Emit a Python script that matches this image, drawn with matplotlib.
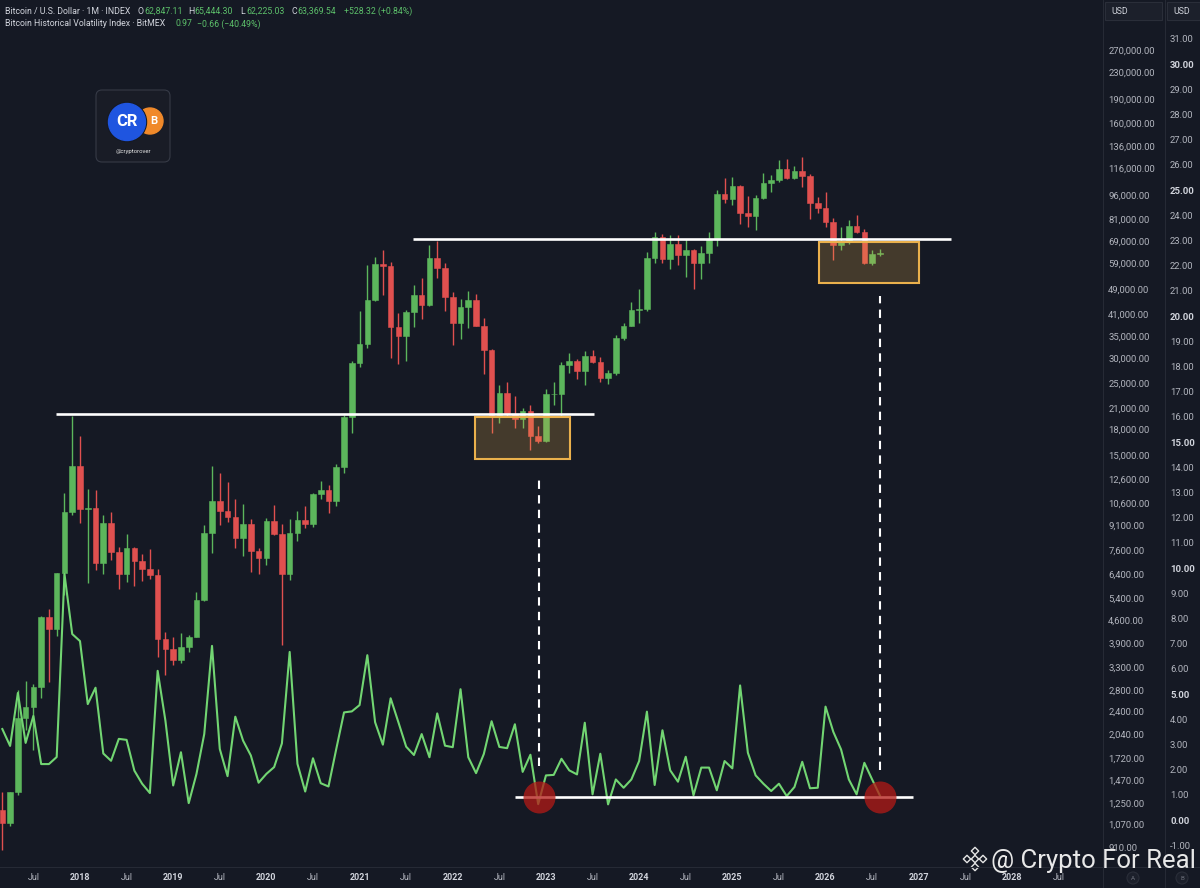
import numpy as np
import matplotlib.pyplot as plt
from matplotlib.patches import Rectangle, FancyBboxPatch, Circle
from matplotlib.ticker import NullLocator, NullFormatter

W, H = 1200, 888
BG = '#151924'
TXT = '#b2b5be'
UP = '#5cb65c'
DOWN = '#e0504f'
VOL_C = '#72d572'
LEG_GREEN = '#5cbf6a'

plt.rcParams['font.family'] = ['Roboto', 'DejaVu Sans']

# month index, 0 = Jan 2018 (first candle is Mar 2017, last Aug 2026)
months = np.arange(-10, 104)

opens = [
    1190, 1080, 1350, 2300, 2480, 2870, 4730, 4340, 6450, 9950,  # 2017
    13850, 10200, 10300, 6930, 9240, 7500, 6400, 7730, 7030, 6630, 6370, 4040,  # 2018
    3740, 3460, 3810, 4100, 5320, 8570, 10820, 10080, 9600, 8300, 9150, 7550,  # 2019
    7190, 9350, 8540, 6410, 8620, 9450, 9140, 11350, 11650, 10780, 13800, 19700,  # 2020
    28900, 33100, 45200, 58800, 57700, 37300, 35000, 41500, 47100, 43800, 61300, 57000,  # 2021
    46200, 38500, 43200, 45500, 37700, 31800, 19950, 23300, 20050, 19430, 20500, 17170,  # 2022
    16550, 23130, 23150, 28480, 29250, 27220, 30480, 29230, 25940, 26970, 34650, 37720,  # 2023
    42280, 42580, 61130, 71330, 60640, 67490, 62700, 64600, 58970, 63300, 70200, 96400,  # 2024
    93400, 102400, 84350, 82550, 94200, 104600, 107100, 115800, 108300, 114000, 109600, 90400,  # 2025
    87500, 79300, 67200, 68500, 76900, 73700, 58900, 62847.11,  # 2026
]
highs = [
    1350, 1350, 2790, 2980, 2920, 4750, 4980, 6470, 11400, 19800,
    17200, 11800, 11700, 9750, 9990, 7770, 8500, 7770, 7400, 7680, 6620, 4240,
    4100, 4200, 4150, 5640, 9100, 13880, 13200, 12320, 10950, 10540, 9510, 7740,
    9580, 10500, 9190, 9470, 10080, 10400, 11450, 12470, 12080, 14100, 19900, 29300,
    41950, 58350, 61800, 64850, 59500, 41300, 42300, 50500, 52900, 67000, 69000, 59000,
    47990, 45800, 48200, 47450, 40000, 31950, 24650, 25200, 22800, 20990, 21450, 18400,
    23950, 25250, 29200, 31000, 29850, 31400, 31800, 30200, 27500, 35200, 38400, 44700,
    48970, 64000, 73800, 72800, 72000, 72000, 70000, 65100, 66500, 73600, 99600, 108300,
    109400, 102750, 95000, 95750, 112000, 110500, 123200, 124500, 117900, 126200, 111200, 94600,
    98000, 81300, 76500, 80300, 83200, 75100, 64800, 65444.30,
]
lows = [
    890, 1060, 1320, 2100, 1830, 2650, 2970, 4110, 5500, 9750,
    9200, 6000, 6600, 6430, 7060, 5750, 6070, 5880, 6100, 6200, 3550, 3120,
    3350, 3400, 3670, 4080, 5300, 7460, 9100, 9320, 7710, 7300, 6520, 6430,
    6850, 8450, 3850, 6150, 8100, 8900, 8980, 10980, 9880, 10400, 13200, 17600,
    28100, 32300, 45000, 47000, 30000, 28800, 29300, 37300, 39600, 43300, 53250, 42000,
    32950, 34300, 37200, 37600, 26700, 17600, 18800, 19600, 18150, 18200, 15500, 16300,
    16500, 21400, 19600, 26950, 25800, 24800, 28860, 25300, 24900, 26550, 34100, 37600,
    38500, 41880, 59000, 59100, 56550, 58400, 53500, 49000, 52550, 58900, 66800, 90500,
    89200, 78200, 76600, 74500, 93400, 98200, 105300, 107300, 107300, 102000, 80600, 84400,
    76500, 60300, 64800, 67600, 73000, 58600, 58200, 62225.03,
]
closes = [
    1080, 1350, 2300, 2480, 2870, 4730, 4340, 6450, 9950, 13850,
    10200, 10300, 6930, 9240, 7500, 6400, 7730, 7030, 6630, 6370, 4040, 3740,
    3460, 3810, 4100, 5320, 8570, 10820, 10080, 9600, 8300, 9150, 7550, 7190,
    9350, 8540, 6410, 8620, 9450, 9140, 11350, 11650, 10780, 13800, 19700, 28900,
    33100, 45200, 58800, 57700, 37300, 35000, 41500, 47100, 43800, 61300, 57000, 46200,
    38500, 43200, 45500, 37700, 31800, 19950, 23300, 20050, 19430, 20500, 17170, 16550,
    23130, 23150, 28480, 29250, 27220, 30480, 29230, 25940, 26970, 34650, 37720, 42280,
    42580, 61130, 71330, 60640, 67490, 62700, 64600, 58970, 63300, 70200, 96400, 93400,
    102400, 84350, 82550, 94200, 104600, 107100, 115800, 108300, 114000, 109600, 90400, 87500,
    79300, 67200, 68500, 76900, 73700, 58900, 62847.11, 63369.54,
]

# Bitcoin Historical Volatility Index (BitMEX), same months
vol = [
    3.61, 2.94, 5.04, 3.06, 4.13, 2.22, 2.22, 2.50, 9.76, 7.38,
    7.10, 4.60, 5.25, 2.64, 2.35, 3.22, 3.18, 1.96, 1.44, 1.07, 5.92, 3.94,
    1.37, 2.69, 0.67, 1.83, 3.41, 6.91, 2.82, 1.74, 4.10, 3.15, 2.56, 1.48,
    1.83, 2.10, 3.04, 6.67, 2.23, 1.13, 2.45, 1.46, 1.33, 2.82, 4.27, 4.31,
    4.56, 6.54, 3.88, 2.99, 4.83, 3.88, 2.91, 2.58, 3.41, 2.49, 4.23, 2.95,
    2.89, 5.19, 2.49, 1.86, 2.62, 3.92, 2.90, 2.85, 3.80, 1.91, 2.59, 0.63,
    1.77, 1.79, 2.43, 1.97, 1.81, 3.86, 1.02, 2.63, 0.62, 1.61, 1.28, 1.61,
    2.34, 4.30, 1.39, 3.56, 1.97, 1.52, 2.51, 0.98, 2.08, 2.08, 1.18, 2.34,
    2.05, 5.34, 2.67, 1.77, 1.44, 1.15, 1.44, 0.95, 1.31, 2.31, 1.26, 1.28,
    4.50, 3.50, 2.80, 1.61, 1.02, 2.27, 1.61, 0.97,
]

price_ticks = [270000, 230000, 190000, 160000, 136000, 116000, 96000, 81000, 69000,
               59000, 49000, 41000, 35000, 30000, 25000, 21000, 18000, 15000, 12600,
               10600, 9100, 7600, 6400, 5400, 4600, 3900, 3300, 2800, 2400, 2040,
               1720, 1470, 1250, 1070, 910]
vol_ticks = list(range(-1, 32))
xtick_pos = list(range(-6, 127, 6))
xtick_labels = ['Jul' if i % 2 == 0 else str(2018 + i // 2) for i in range(len(xtick_pos))]

# drawn levels / zones
support_old = 20100
resist_top = 69900
vol_floor = 0.90
zones = [(50.9, 63.1, 14600, 19700), (95.1, 108.1, 51100, 68800)]
marks = [59.1, 103.06]

fig = plt.figure(figsize=(W / 100, H / 100), dpi=100, facecolor=BG)
ax = fig.add_axes([0, 22 / H, 1102 / W, 866 / H])
ax.set_facecolor(BG)
ax.set_yscale('log')
ax.set_ylim(796.5, 386400)
ax.set_xlim(-10.30, 131.6)

o = np.array(opens, dtype=float)
c = np.array(closes, dtype=float)
colors = np.where(c >= o, UP, DOWN)
ax.vlines(months, lows, highs, colors=colors, lw=1.0, zorder=2)
ax.bar(months, np.abs(c - o), bottom=np.minimum(o, c), width=0.72,
       color=colors, edgecolor=colors, lw=0.4, zorder=3)

ax.hlines(support_old, -3.1, 66.2, color='white', lw=1.9, zorder=5)
ax.hlines(resist_top, 42.9, 112.2, color='white', lw=1.9, zorder=5)
for x0, x1, y0, y1 in zones:
    ax.add_patch(Rectangle((x0, y0), x1 - x0, y1 - y0, facecolor=(0.93, 0.69, 0.29, 0.22),
                           edgecolor='#eab04c', lw=1.5, zorder=4))

ax2 = ax.twinx()
ax2.set_ylim(-1.825, 32.54)
ax2.plot(months, vol, color=VOL_C, lw=1.5, zorder=4)
ax2.hlines(vol_floor, 56.0, 107.2, color='white', lw=1.9, zorder=5)
ax2.vlines(marks[0], 2.14, 13.6, color='white', lw=1.5, linestyles=(0, (4, 3)), zorder=5)
ax2.vlines(marks[1], 1.98, 20.8, color='white', lw=1.5, linestyles=(0, (4, 3)), zorder=5)
ax2.scatter(marks, [0.93, 0.93], s=530, color='#b41a16', alpha=0.75, lw=0, zorder=6)

# axes styling
ax.yaxis.tick_right()
ax.set_yticks(price_ticks)
ax.set_yticklabels([f'{p:,.2f}' for p in price_ticks])
ax.yaxis.set_minor_locator(NullLocator())
ax.yaxis.set_minor_formatter(NullFormatter())
ax.tick_params(axis='y', length=0, pad=4.5, labelsize=6.8, labelcolor=TXT)
ax.set_xticks(xtick_pos)
ax.set_xticklabels(xtick_labels)
ax.tick_params(axis='x', length=0, pad=5, labelsize=6.5, labelcolor=TXT)
for lab in ax.get_xticklabels():
    if lab.get_text() != 'Jul':
        lab.set_fontweight('bold')
        lab.set_color('#d1d4dc')

ax2.set_yticks(vol_ticks)
ax2.set_yticklabels([f'{v:.2f}' for v in vol_ticks])
ax2.tick_params(axis='y', length=0, pad=49, labelsize=6.8, labelcolor=TXT)
for lab, v in zip(ax2.get_yticklabels(), vol_ticks):
    if v % 5 == 0:
        lab.set_fontweight('bold')
        lab.set_color('#d1d4dc')

for a in (ax, ax2):
    for s in a.spines.values():
        s.set_visible(False)

# overlay in pixel coordinates for the decorations
ov = fig.add_axes([0, 0, 1, 1], zorder=10)
ov.set_xlim(0, W)
ov.set_ylim(H, 0)
ov.axis('off')

ov.plot([0, W], [867, 867], color='#262a35', lw=0.8)
ov.plot([1103, 1103], [0, H], color='#262a35', lw=0.8)
ov.plot([1165, 1165], [0, H], color='#262a35', lw=0.8)

# legend lines
fs = 6.3
ov.text(5, 11, 'Bitcoin / U.S. Dollar · 1M · INDEX', color='#d1d4dc', fontsize=fs, va='center')
for x, key, val in [(138, 'O', '62,847.11'), (188, 'H', '65,444.30'),
                    (240, 'L', '62,225.03'), (291, 'C', '63,369.54')]:
    ov.text(x, 11, key, color='#d1d4dc', fontsize=fs, va='center')
    ov.text(x + 6.5, 11, val, color=LEG_GREEN, fontsize=fs, va='center')
ov.text(344, 11, '+528.32 (+0.84%)', color=LEG_GREEN, fontsize=fs, va='center')
ov.text(5, 24, 'Bitcoin Historical Volatility Index · BitMEX', color='#d1d4dc', fontsize=fs, va='center')
ov.text(175, 24, '0.97', color=LEG_GREEN, fontsize=fs, va='center')
ov.text(197, 24, '\u22120.66 (\u221240.49%)', color=LEG_GREEN, fontsize=fs, va='center')

# currency boxes
for x0, w in [(1105, 57), (1167, 33)]:
    ov.add_patch(Rectangle((x0, 2), w, 18, facecolor='#1c202b', edgecolor='#2a2e39', lw=0.8))
    ov.text(x0 + 6, 11, 'USD', color='#d1d4dc', fontsize=6.3, va='center')

for x, t in [(1133, 'A'), (1182, 'B')]:
    ov.add_patch(Circle((x, 878), 6, facecolor='#1c202b', edgecolor='#2a2e39', lw=0.8))
    ov.text(x, 878, t, color='#6a6d78', fontsize=4.5, ha='center', va='center')

# cryptorover logo
ov.add_patch(FancyBboxPatch((96, 90), 74, 72, boxstyle='round,pad=0,rounding_size=6',
                            facecolor='#191c26', edgecolor='#363a46', lw=0.8))
ov.add_patch(Circle((150, 121), 13, color='#f0892a'))
ov.text(154, 121, 'B', color='white', fontsize=8, fontweight='bold', ha='center', va='center')
ov.add_patch(Circle((127, 122), 19.5, color='#151924'))
ov.add_patch(Circle((127, 122), 18.5, color='#1f55e0'))
ov.text(127, 122, 'CR', color='white', fontsize=12, fontweight='bold', ha='center', va='center')
ov.text(133, 151, '@cryptorover', color='#e6e6e6', fontsize=4.3, ha='center', va='center')

# watermark
ov.scatter([975, 967, 983, 975, 975], [859, 859, 859, 851, 867], marker='D', s=14,
           facecolor='none', edgecolor='#e6e6e6', lw=1.0)
ov.text(1196, 861, '@ Crypto For Real', color='#e8e8e8', fontsize=18.5, va='center',
        ha='right', family=['Roboto', 'DejaVu Sans'])

fig.savefig('out.png', dpi=100, facecolor=BG)
